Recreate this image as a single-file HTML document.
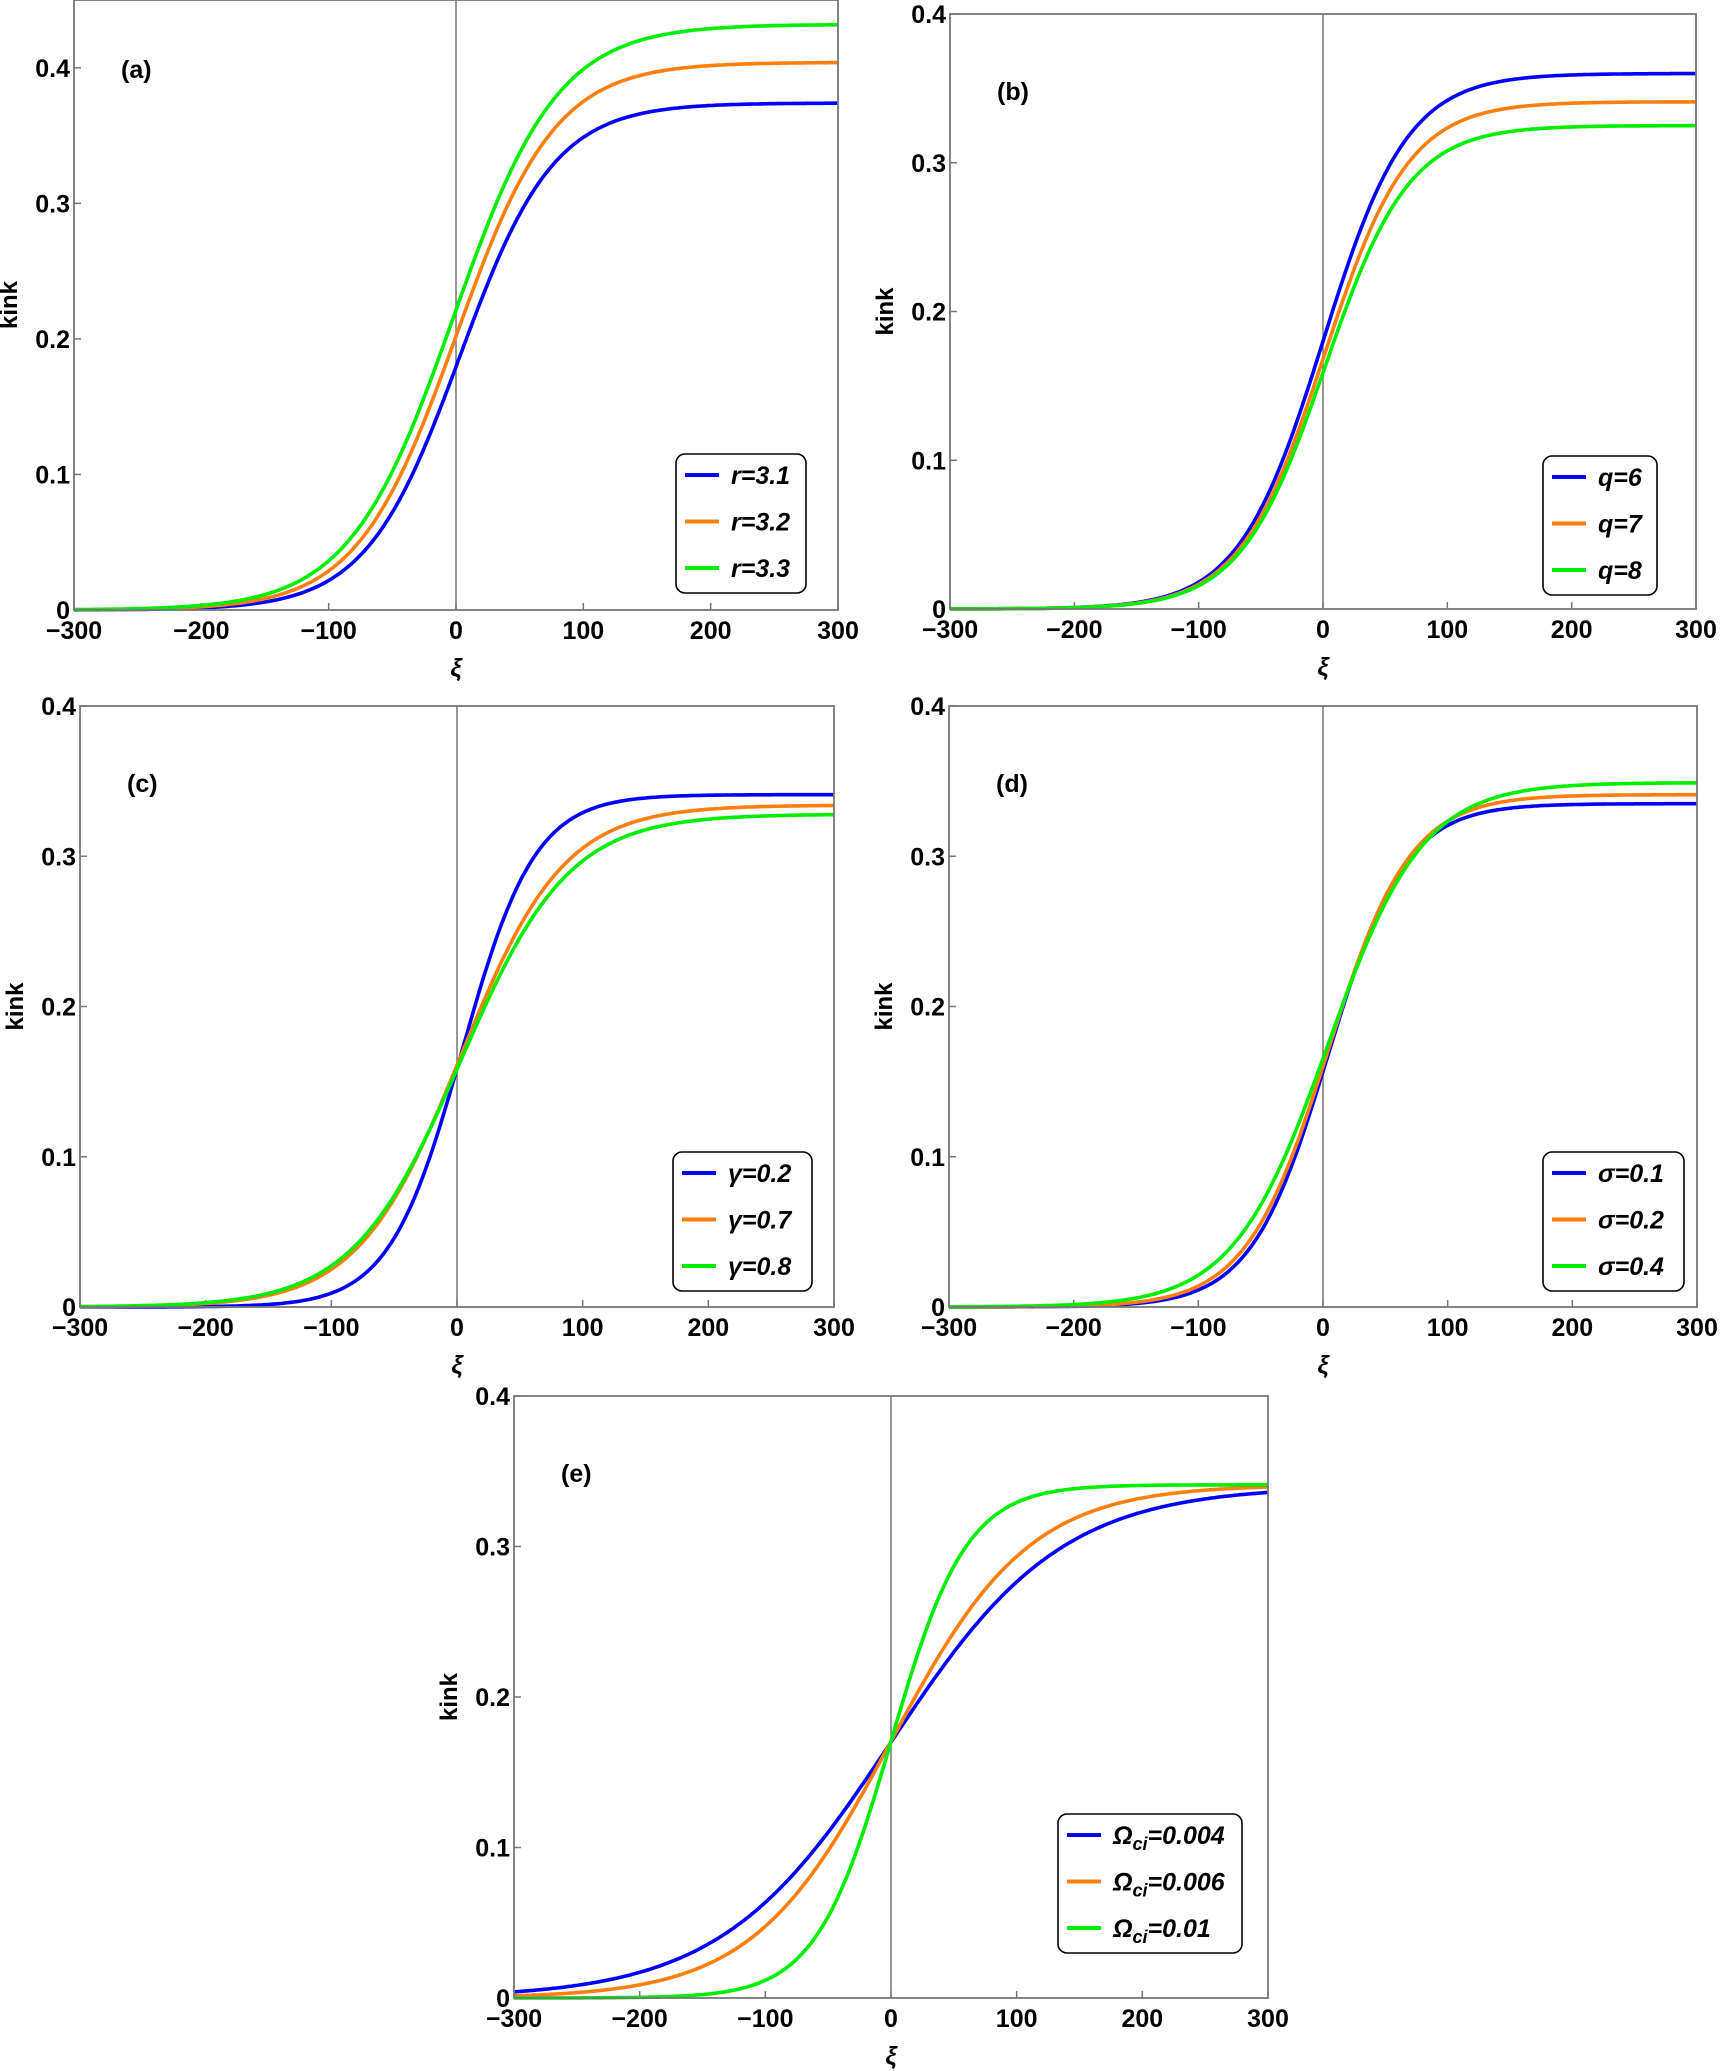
<!DOCTYPE html>
<html><head><meta charset="utf-8"><style>
html,body{margin:0;padding:0;background:#fff}
svg{display:block}
text{font-family:"Liberation Sans",Arial,sans-serif;font-weight:bold}
</style></head><body>
<svg id="s" width="1720" height="2071" xmlns="http://www.w3.org/2000/svg"></svg>
<script>
var svg=document.getElementById('s');var h='';
var C=['#0000ff','#ff7f0e','#00ee00'];
function panel(p){
 var L=p.L,R=p.R,T=p.T,B=p.B,ym=p.ymax;
 function X(v){return L+(v+300)/600*(R-L);}
 function Y(v){return B-v/ym*(B-T);}
 h+='<line x1="'+X(0)+'" y1="'+T+'" x2="'+X(0)+'" y2="'+B+'" stroke="#777" stroke-width="1.5"/>';
 for(var v=-300;v<=300;v+=100){var x=X(v);
  h+='<line x1="'+x+'" y1="'+B+'" x2="'+x+'" y2="'+(B-7)+'" stroke="#777" stroke-width="1.5"/>';
  h+='<text x="'+x+'" y="'+(B+29)+'" font-size="25" text-anchor="middle">'+(v<0?'\u2212'+(-v):v)+'</text>';}
 for(var i=0;i<=4;i++){var yv=i/10;if(yv>ym+1e-9)continue;var y=Y(yv);
  h+='<line x1="'+L+'" y1="'+y+'" x2="'+(L+7)+'" y2="'+y+'" stroke="#777" stroke-width="1.5"/>';
  h+='<text x="'+(L-4)+'" y="'+(y+9)+'" font-size="25" text-anchor="end">'+(i==0?'0':yv.toFixed(1))+'</text>';}
 p.c.forEach(function(c,k){var d='';
  for(var x=-300;x<=300;x+=2){var v=c[0]/(1+Math.exp(-(x-(c[2]||0))/c[1]));d+=(x==-300?'M':'L')+X(x).toFixed(1)+','+Y(v).toFixed(1);}
  h+='<path d="'+d+'" fill="none" stroke="'+C[k]+'" stroke-width="3.6"/>';});
 h+='<rect x="'+L+'" y="'+T+'" width="'+(R-L)+'" height="'+(B-T)+'" fill="none" stroke="#777" stroke-width="1.8"/>';
 h+='<text x="'+(L+47)+'" y="'+(T+p.ly)+'" font-size="25">'+p.lab+'</text>';
 h+='<text x="'+X(0)+'" y="'+(B+66)+'" font-size="25" font-style="italic" text-anchor="middle">ξ</text>';
 var ky=(T+B)/2;
 h+='<text transform="translate('+(L-57)+','+ky+') rotate(-90)" font-size="24" text-anchor="middle">kink</text>';
 var lx=p.lg[0],ly=p.lg[1],lw=p.lg[2],lh=139;
 h+='<rect x="'+lx+'" y="'+ly+'" width="'+lw+'" height="'+lh+'" rx="9" fill="#fff" stroke="#000" stroke-width="1.6"/>';
 for(var k=0;k<3;k++){var yy=ly+21+k*46.5;
  h+='<line x1="'+(lx+9)+'" y1="'+yy+'" x2="'+(lx+43)+'" y2="'+yy+'" stroke="'+C[k]+'" stroke-width="4"/>';
  h+='<text x="'+(lx+55)+'" y="'+(yy+9)+'" font-size="25" font-style="italic">'+p.leg[k]+'</text>';}
}
var om=function(v){return 'Ω<tspan font-size="18" dy="6">ci</tspan><tspan dy="-6">='+v+'</tspan>';};
panel({L:74,R:838,T:0,B:610,ymax:0.45,lab:'(a)',ly:78,lg:[676,454,130],leg:['r=3.1','r=3.2','r=3.3'],
 c:[[0.374,37,3],[0.404,39,0],[0.432,41,-2]]});
panel({L:950,R:1696,T:14,B:609,ymax:0.4,lab:'(b)',ly:86,lg:[1543,456,114],leg:['q=6','q=7','q=8'],
 c:[[0.360,34,0],[0.341,34,1],[0.325,34,1.5]]});
panel({L:80,R:834,T:706,B:1307,ymax:0.4,lab:'(c)',ly:86,lg:[673,1152,139],leg:['γ=0.2','γ=0.7','γ=0.8'],
 c:[[0.341,29,4],[0.334,41,3],[0.328,43,3]]});
panel({L:949,R:1697,T:706,B:1307,ymax:0.4,lab:'(d)',ly:86,lg:[1543,1152,141],leg:['σ=0.1','σ=0.2','σ=0.4'],
 c:[[0.335,31,4],[0.341,33,4],[0.349,38,4]]});
panel({L:514,R:1268,T:1396,B:1998,ymax:0.4,lab:'(e)',ly:86,lg:[1058,1814,184],leg:[om('0.004'),om('0.006'),om('0.01')],
 c:[[0.340,68,0],[0.341,55,0],[0.341,30,0]]});
svg.innerHTML=h;
</script>
</body></html>
